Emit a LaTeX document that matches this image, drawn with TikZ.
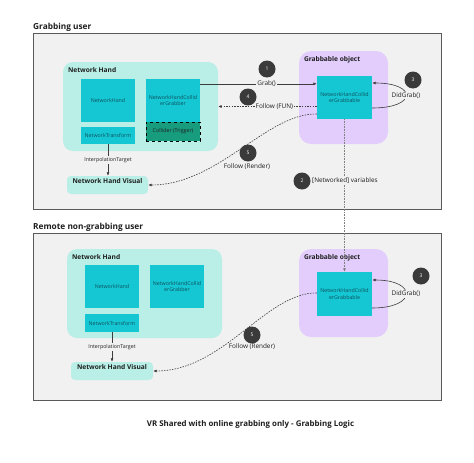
\documentclass[tikz,border=0pt]{standalone}
\usepackage{fontspec}
\setmainfont{Open Sans}
\usepackage{tikz}
\usetikzlibrary{positioning,arrows.meta}
\definecolor{mybg}{RGB}{241,241,241}
\definecolor{myedge}{RGB}{90,90,90}
\definecolor{myteal}{RGB}{185,239,230}
\definecolor{mycyan}{RGB}{20,199,211}
\definecolor{mygreen}{RGB}{24,156,126}
\definecolor{mypurple}{RGB}{226,205,252}
\definecolor{mybadge}{RGB}{58,58,58}
\definecolor{mytext}{RGB}{30,30,30}
\definecolor{mycomptext}{RGB}{15,80,92}
\definecolor{myline}{RGB}{60,60,60}

\begin{document}
\begin{tikzpicture}[x=1pt, y=-1pt,
    frame/.style={draw=myedge, fill=mybg, line width=0.9pt},
    title/.style={font=\bfseries\fontsize{8.3}{10}\selectfont, text=mytext, inner sep=0pt, anchor=base west},
    handgrp/.style={fill=myteal, rounded corners=10pt},
    grabgrp/.style={fill=mypurple, rounded corners=12pt},
    grplbl/.style={font=\bfseries\fontsize{6.6}{8}\selectfont, text=mytext, inner sep=0pt, anchor=north west},
    visual/.style={fill=myteal, rounded corners=4pt, font=\bfseries\fontsize{6.6}{8}\selectfont, text=mytext, inner sep=0pt, text depth=8pt},
    comp/.style={fill=mycyan, text=mycomptext, font=\fontsize{5.3}{6.5}\selectfont, align=center, inner sep=0pt, minimum width=54},
    badge/.style={circle, fill=mybadge, text=white, font=\fontsize{5}{6}\selectfont, minimum size=17, inner sep=0pt},
    lbl/.style={font=\fontsize{6.4}{7.5}\selectfont, text=mytext, inner sep=1pt},
    call/.style={draw=myline, line width=0.6pt, -{Latex[length=3.5pt,width=3pt]}},
    follow/.style={call, dash pattern=on 1.5pt off 1.2pt},
    netvar/.style={draw=gray, line width=0.6pt, dash pattern=on 0.8pt off 0.8pt, -{Latex[length=3.5pt,width=3pt]}},
  ]
  \useasboundingbox[fill=white] (0,0) rectangle (474,463);

  % grabbing user
  \node[title] (usr1) at (33,29.5) {Grabbing user};
  \draw[frame] (33,33) rectangle (441,209);
  \node[handgrp, minimum width=155, minimum height=89] (hand1) at (140.5,106.5) {};
  \node[grplbl] at ([xshift=5pt,yshift=-5pt]hand1.north west) {Network Hand};
  \node[comp, minimum height=43] (nh1) at (108,100.5) {NetworkHand};
  \node[comp, minimum height=17] (nt1) at (108,135.5) {NetworkTransform};
  \node[comp, minimum height=43] (ncg1) at (173,100.5) {NetworkHandCollid\\erGrabber};
  \node[comp, fill=mygreen, draw=black, dashed, line width=0.7pt, minimum height=19, text=mytext] (col1) at (173,131.5) {Collider (Trigger)};
  \node[visual, minimum width=81, minimum height=18] (vis1) at (107.5,185) {Network Hand Visual};
  \node[grabgrp, minimum width=89, minimum height=93] (gob1) at (343.5,97.5) {};
  \node[grplbl] at ([xshift=5pt,yshift=-5.5pt]gob1.north west) {Grabbable object};
  \node[comp, minimum width=55, minimum height=43] (grb1) at (344.5,97.5) {NetworkHandCollid\\erGrabbable};

  \draw[call] (nt1.south) -- (nt1.south |- vis1.north) node[lbl, fill=mybg, midway, font=\fontsize{5.3}{6.5}\selectfont] {InterpolationTarget};
  \draw[call] ([yshift=-5pt]ncg1.north east) -- ([yshift=-8pt]grb1.north west) node[lbl, fill=mybg, pos=0.57] {Grab()};
  \draw[follow] ([yshift=-9pt]grb1.west) -- (hand1.east) node[lbl, fill=mybg, pos=0.43] {Follow (FUN)};
  \draw[call] ([yshift=-10.5pt]grb1.east) .. controls +(45,0) and +(45,0) .. ([yshift=14.5pt]grb1.east) node[lbl, fill=mybg, pos=0.5] {DidGrab()};
  \draw[follow] ([yshift=-16.5pt]grb1.west) .. controls +(-50,-1) and +(70,0) .. (vis1.east);
  \node[lbl] (ren1) at (247,167) {Follow (Render)};
  \node[badge] (b1) at (267,69) {1};
  \node[badge] (b4) at (248,97) {4};
  \node[badge] (b3a) at (413,80) {3};
  \node[badge] (b5a) at (248,153) {5};

  % remote user
  \node[title] (usr2) at (33,229) {Remote non-grabbing user};
  \draw[frame] (33,233) rectangle (441,400);
  \node[handgrp, minimum width=155, minimum height=89] (hand2) at (144.5,293.5) {};
  \node[grplbl] at ([xshift=5pt,yshift=-5pt]hand2.north west) {Network Hand};
  \node[comp, minimum height=43] (nh2) at (112,286.5) {NetworkHand};
  \node[comp, minimum height=18] (nt2) at (112,323) {NetworkTransform};
  \node[comp, minimum height=43] (ncg2) at (177,286.5) {NetworkHandCollid\\erGrabber};
  \node[visual, minimum width=82, minimum height=18] (vis2) at (112,371) {Network Hand Visual};
  \node[grabgrp, minimum width=89, minimum height=88] (gob2) at (343.5,293) {};
  \node[grplbl] at ([xshift=5pt,yshift=-5.5pt]gob2.north west) {Grabbable object};
  \node[comp, minimum width=55, minimum height=44] (grb2) at (344.5,294) {NetworkHandCollid\\erGrabbable};

  \draw[call] (nt2.south) -- (nt2.south |- vis2.north) node[lbl, fill=mybg, midway, font=\fontsize{5.3}{6.5}\selectfont] {InterpolationTarget};
  \draw[call] ([yshift=-14pt]grb2.east) .. controls +(45,0) and +(45,0) .. ([yshift=14pt]grb2.east) node[lbl, fill=mybg, pos=0.5] {DidGrab()};
  \draw[follow] ([yshift=1pt]grb2.west) .. controls +(-50,-1) and +(70,0) .. (vis2.east);
  \node[lbl] (ren2) at (252,347) {Follow (Render)};
  \node[badge] (b3b) at (421,276) {3};
  \node[badge] (b5b) at (252,335) {5};

  % networked variables
  \draw[netvar] (grb1.south) -- (grb2.north);
  \node[badge] (b2) at (302,181) {2};
  \node[lbl, fill=mybg, anchor=west] (netlbl) at (311,181) {[Networked] variables};

  \node[font=\bfseries\fontsize{7.9}{9}\selectfont, text=mytext] (cap) at (250.5,424) {VR Shared with online grabbing only - Grabbing Logic};
\end{tikzpicture}
\end{document}
